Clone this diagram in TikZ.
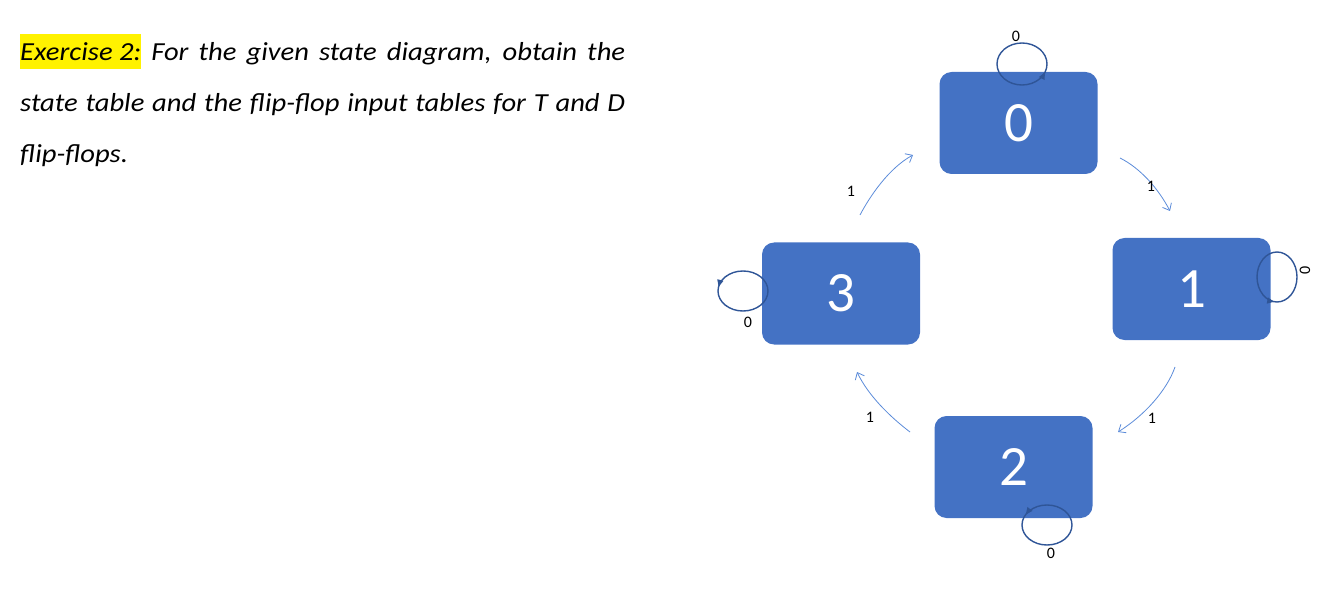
\documentclass[tikz,border=0pt]{standalone}
\usepackage{fontspec}
\setmainfont{Carlito}
\newfontfamily\exfont[FakeStretch=1.1]{Carlito}
\usetikzlibrary{arrows.meta,decorations.markings}
\definecolor{boxblue}{HTML}{4472C4}
\definecolor{loopblue}{HTML}{2F5597}
\definecolor{arrblue}{HTML}{5B8BD9}
\begin{document}
\begin{tikzpicture}[x=1pt,y=-1pt,
  statebox/.style={fill=boxblue, draw=none, rounded corners=12pt, minimum width=158pt, minimum height=102pt, inner sep=0pt, text=white, font=\fontsize{57}{60}\selectfont},
  selfloop/.style={draw=loopblue, line width=1.4pt},
  looptip/.style={postaction={decorate, decoration={markings, mark=at position #1 with {\arrow[loopblue]{Triangle[length=7pt,width=6pt]}}}}},
  trans/.style={draw=arrblue, line width=0.8pt, -{Straight Barb[length=6pt,width=10pt]}},
  lbl/.style={inner sep=0pt, font=\fontsize{16}{16}\selectfont, text=black}
]
\useasboundingbox (0,0) rectangle (1344,596);

% text
\node[anchor=north west, inner sep=0pt, align=left, font=\fontsize{26}{51}\exfont\itshape] (txt) at (20,34)
 {\makebox[605pt][s]{{\setlength{\fboxsep}{0pt}\colorbox{yellow}{\rule[-9pt]{0pt}{35pt}Exercise 2:}} For the given state diagram, obtain the}\\
  \makebox[605pt][s]{state table and the flip-flop input tables for T and D}\\
  flip-flops.};

% self loop centres
\coordinate (l0) at (1022,64);
\coordinate (l1) at (1277,277);
\coordinate (l3) at (743,291);
\coordinate (l2) at (1047,525);

% states
\node[statebox] (s0) at (1018.5,123) {0};
\node[statebox] (s1) at (1191.5,289) {1};
\node[statebox] (s3) at (841,293.5) {3};
\node[statebox] (s2) at (1013.5,467) {2};

\path[selfloop, looptip=0.94] (l0) ellipse [x radius=25pt, y radius=21pt];
\path[selfloop, looptip=0.73] (l1) ellipse [x radius=20pt, y radius=25pt];
\path[selfloop, looptip=0.47] (l3) ellipse [x radius=25pt, y radius=20pt];
\path[selfloop, looptip=0.42] (l2) ellipse [x radius=25pt, y radius=20pt];

\node[lbl] (t0) at (1016,36) {0};
\node[lbl, rotate=90] (t1) at (1305,270) {0};
\node[lbl] (t3) at (748,322) {0};
\node[lbl] (t2) at (1051,553) {0};

% transitions
\coordinate (a30) at (860,215); \coordinate (b30) at (913,155);
\coordinate (a01) at (1120,158); \coordinate (b01) at (1170,211);
\coordinate (a12) at (1175,367); \coordinate (b12) at (1118,432);
\coordinate (a23) at (910,432); \coordinate (b23) at (857,372);

\draw[trans] (a30) .. controls (870,196) and (889,168) .. (b30);
\draw[trans] (a01) .. controls (1140,168) and (1158,188) .. (b01);
\draw[trans] (a12) .. controls (1167,390) and (1145,415) .. (b12);
\draw[trans] (a23) .. controls (889,416) and (868,395) .. (b23);

\node[lbl] (m30) at (851,191) {1};
\node[lbl] (m01) at (1151,186) {1};
\node[lbl] (m12) at (1152,418) {1};
\node[lbl] (m23) at (870,417) {1};
\end{tikzpicture}
\end{document}
